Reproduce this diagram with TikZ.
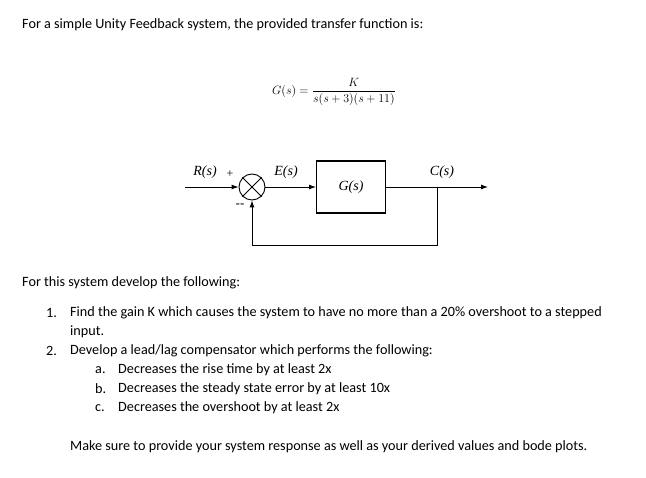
\documentclass[tikz,border=0pt]{standalone}
\usepackage{fontspec}
\setmainfont{Carlito}
\newfontfamily\tms{Liberation Serif}
\usetikzlibrary{arrows.meta}
\begin{document}
\begin{tikzpicture}[x=1pt,y=-1pt,
  txt/.style={anchor=west,inner sep=0pt,font=\fontsize{14.2}{17}\selectfont},
  lbl/.style={inner sep=0pt,font=\tms\fontsize{14}{16}\selectfont\itshape},
  sig/.style={line width=0.9pt,-{Latex[length=7pt,width=5pt]}},
  wire/.style={line width=0.9pt}]
\useasboundingbox (0,0) rectangle (646,478);
\node[txt] (t0) at (22,25) {For a simple Unity Feedback system, the provided transfer function is:};
\node[inner sep=0pt,font=\fontsize{13}{15}\selectfont] (eq) at (334,92) {$G(s)=\displaystyle\frac{K}{s(s+3)(s+11)}$};
% block diagram
\coordinate (rin) at (185,187);
\node[draw,circle,line width=0.9pt,minimum size=26pt,inner sep=0pt] (sum) at (252,187) {};
\draw[line width=0.9pt] (sum.north west)--(sum.south east) (sum.north east)--(sum.south west);
\node[draw,line width=1.2pt,minimum width=69pt,minimum height=52pt,anchor=west] (g) at (316,187) {};
\node[lbl] (gl) at (351,187) {G(s)};
\coordinate (out) at (488,187);
\coordinate (br) at (437,187);
\coordinate (bl) at (437,245);
\coordinate (fb) at (252,245);
\draw[sig] (rin) -- (sum.west);
\draw[sig] (sum.east) -- (g.west);
\draw[sig] (g.east) -- (out);
\draw[wire] (br) -- (bl) -- (fb);
\draw[sig] (fb) -- (sum.south);
\node[lbl] (rl) at (205,172) {R(s)};
\node[inner sep=0pt,font=\tms\fontsize{12}{14}\selectfont] (pl) at (230,174) {+};
\node[inner sep=0pt,font=\tms\fontsize{13}{14}\selectfont] (ml) at (240,206) {--};
\node[lbl] (el) at (286,172) {E(s)};
\node[lbl] (cl) at (442,172) {C(s)};
% text
\node[txt] (t1) at (22,283) {For this system develop the following:};
\node[txt] (n1) at (46,313) {1.};
\node[txt] (t2) at (70,313) {Find the gain K which causes the system to have no more than a 20\% overshoot to a stepped};
\node[txt] (t3) at (70,332) {input.};
\node[txt] (n2) at (46,351) {2.};
\node[txt] (t4) at (70,351) {Develop a lead/lag compensator which performs the following:};
\node[txt] (na) at (95,370) {a.};
\node[txt] (t5) at (118,370) {Decreases the rise time by at least 2x};
\node[txt] (nb) at (95,389) {b.};
\node[txt] (t6) at (118,389) {Decreases the steady state error by at least 10x};
\node[txt] (nc) at (95,408) {c.};
\node[txt] (t7) at (118,408) {Decreases the overshoot by at least 2x};
\node[txt] (t8) at (70,447) {Make sure to provide your system response as well as your derived values and bode plots.};
\end{tikzpicture}
\end{document}
